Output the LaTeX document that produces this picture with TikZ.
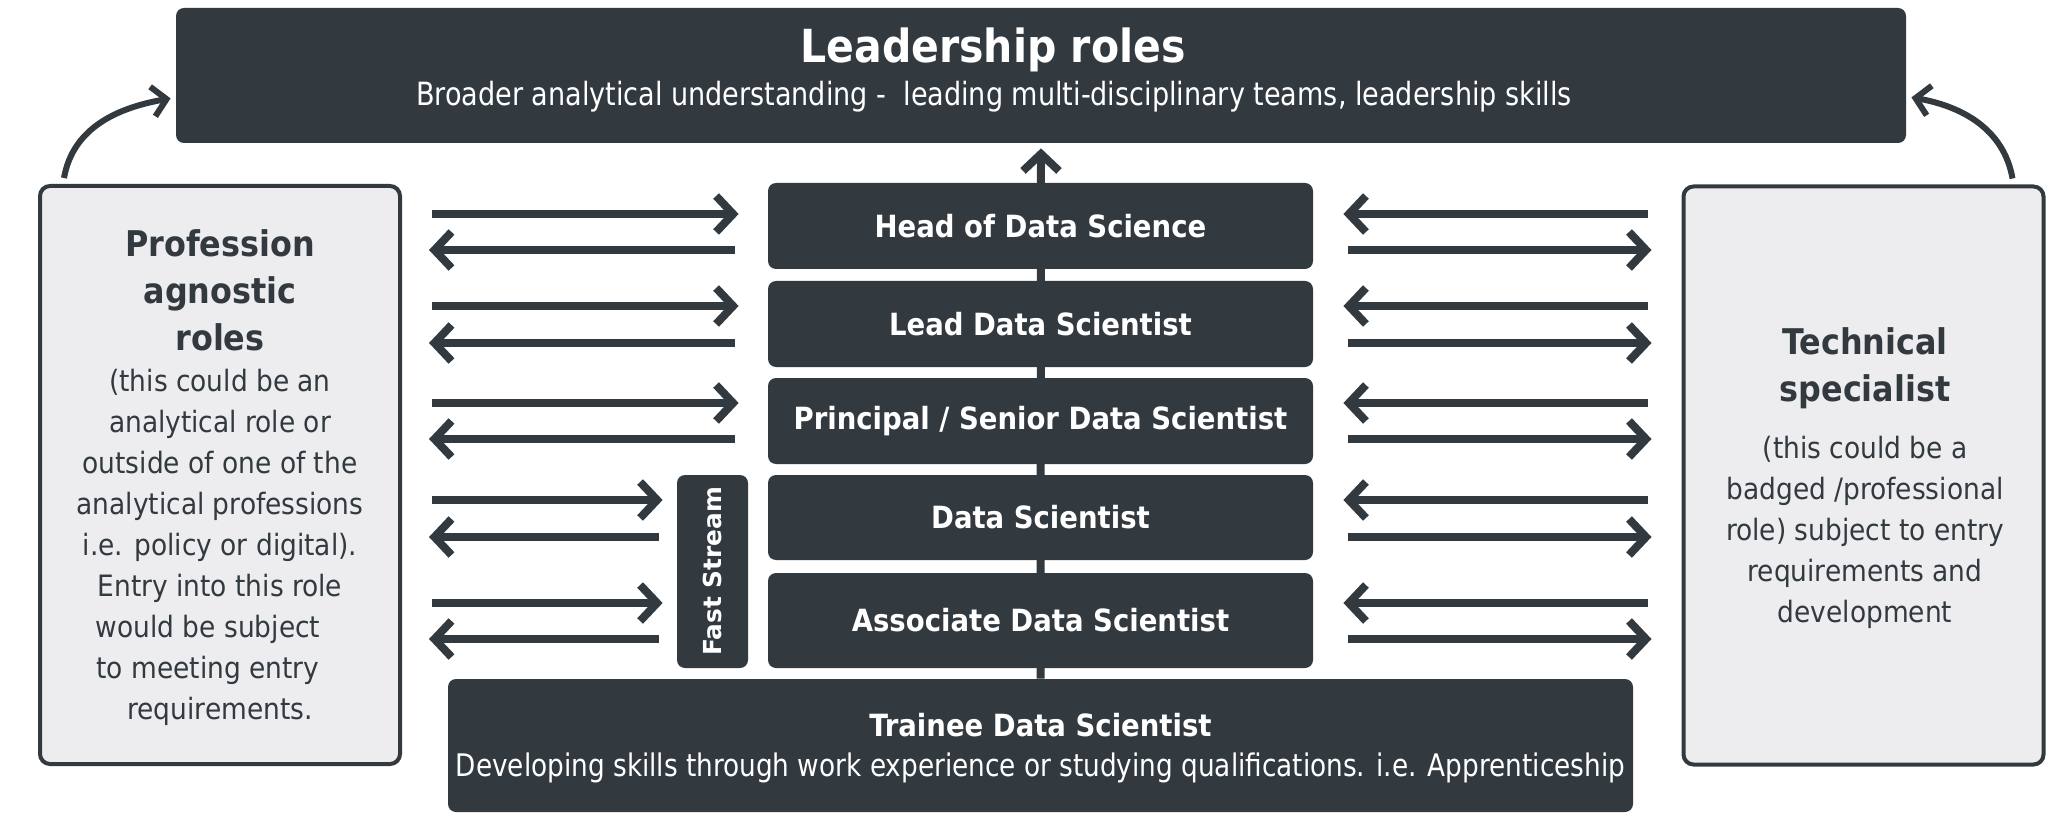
\documentclass[tikz,border=0pt]{standalone}
\usepackage{fontspec}
\setmainfont{DejaVu Sans Condensed}
\newfontfamily\narrowfont{DejaVu Sans Condensed}[FakeStretch=0.94]
\newfontfamily\labelfont{DejaVu Sans Condensed}
\newfontfamily\widefont{DejaVu Sans}
\usetikzlibrary{arrows.meta,calc,backgrounds,positioning}
\definecolor{slate}{RGB}{50,58,64}
\definecolor{mist}{RGB}{237,237,240}

\begin{document}
\begin{tikzpicture}[x=0.5pt,y=0.5pt,
	banner/.style={fill=slate,rounded corners=4pt,inner sep=0pt},
	grade/.style={banner,minimum width=272.5pt,minimum height=43pt,text=white,font=\labelfont\bfseries\fontsize{15.3}{18}\selectfont},
	bannertitle/.style={text=white,inner sep=0pt,font=\labelfont\bfseries\fontsize{15.3}{18}\selectfont},
	bannertext/.style={text=white,inner sep=0pt,font=\narrowfont\fontsize{16}{19}\selectfont},
	side/.style={draw=slate,line width=2pt,fill=mist,rounded corners=5pt,minimum width=180pt,minimum height=289pt},
	sidehead/.style={text=slate,align=center,inner sep=0pt,font=\labelfont\bfseries\fontsize{17.7}{23.5}\selectfont},
	sidetext/.style={text=slate,align=center,inner sep=0pt,font=\labelfont\fontsize{14.7}{20.5}\selectfont},
	flow/.style={slate,line width=4pt,-{Straight Barb[length=8.5pt,width=18pt]}},
	climb/.style={slate,line width=3pt,-{Straight Barb[length=7pt,width=15pt]}}]
	\useasboundingbox (0,0) rectangle (2048,815);
	% top and bottom bands
	\node[banner,minimum width=865pt,minimum height=67.5pt] (leader) at (1041,739.5) {};
	\node[bannertitle,font=\labelfont\bfseries\fontsize{22.8}{26}\selectfont] (leadertitle) at (993,765) {Leadership roles};
	\node[bannertext] (leadertext) at (994,718) {Broader analytical understanding -\ \ leading multi-disciplinary teams, leadership skills};
	\node[banner,minimum width=592.5pt,minimum height=66.5pt] (trainee) at (1040.5,69.5) {};
	\node[bannertitle] (traineetitle) at (1040.5,90) {Trainee Data Scientist};
	\node[bannertext,font=\narrowfont\fontsize{15.56}{19}\selectfont] (traineetext) at (1040.5,47) {Developing skills through work experience or studying qualifications. i.e. Apprenticeship};
	% grades
	\node[grade] (head) at (1040.5,589) {Head of Data Science};
	\node[grade] (lead) at (1040.5,491) {Lead Data Scientist};
	\node[grade] (principal) at (1040.5,394) {Principal / Senior Data Scientist};
	\node[grade,minimum height=42.5pt] (ds) at (1040.5,297.5) {Data Scientist};
	\node[grade,minimum height=47.5pt] (assoc) at (1040.5,194.5) {Associate Data Scientist};
	\node[banner,minimum width=35.5pt,minimum height=96.5pt] (fast) at (712.5,243.5) {};
	\node[rotate=90,text=white,inner sep=0pt,font=\widefont\bfseries\fontsize{12.4}{14}\selectfont] (fasttext) at (fast.center) {Fast Stream};
	\begin{scope}[on background layer]
		\draw[flow] (trainee.north) -- ([yshift=-2.5pt]leader.south);
	\end{scope}
	% side roles
	\node[side] (agnostic) at (220,340) {};
	\node[sidehead] (agnostichead) at (220,525) {Profession\\agnostic\\roles};
	\node[sidetext] (agnostictext) at (220,268) {(this could be an\\analytical role or\\outside of one of the\\analytical professions\\i.e. policy or digital).\\Entry into this role\\would be subject\rule{12pt}{0pt}\\to meeting entry\rule{12pt}{0pt}\\requirements.};
	\node[side] (specialist) at (1863.5,339.5) {};
	\node[sidehead] (specialisthead) at (1865,447) {Technical\\specialist};
	\node[sidetext] (specialisttext) at (1865,283) {(this could be a\\badged /professional\\role) subject to entry\\requirements and\\development};
	% moves between grades and side roles
	\foreach \row/\up/\dn/\stop/\gap in {head/12/-24/head/29, lead/18/-19/lead/29, principal/18/-18/principal/29, ds/17.5/-19.5/fast/14, assoc/17.5/-18.5/fast/14}{
		\draw[flow] ($(\row.west -| agnostic.east)+(30,\up)$) -- ($(\row.west -| \stop.west)+(-\gap,\up)$);
		\draw[flow] ($(\row.west -| \stop.west)+(-\gap-4,\dn)$) -- ($(\row.west -| agnostic.east)+(27,\dn)$);
		\draw[flow] ($(\row.east -| specialist.west)+(-34,\up)$) -- ($(\row.east)+(30,\up)$);
		\draw[flow] ($(\row.east)+(35,\dn)$) -- ($(\row.east -| specialist.west)+(-30,\dn)$);
	}
	\draw[climb] ($(agnostic.north west)+(26,6)$) to[out=80,in=190] ($(leader.south west)+(-5,45)$);
	\draw[climb] ($(specialist.north east)+(-33,6)$) to[out=100,in=-10] ($(leader.south east)+(5,46)$);
\end{tikzpicture}
\end{document}
